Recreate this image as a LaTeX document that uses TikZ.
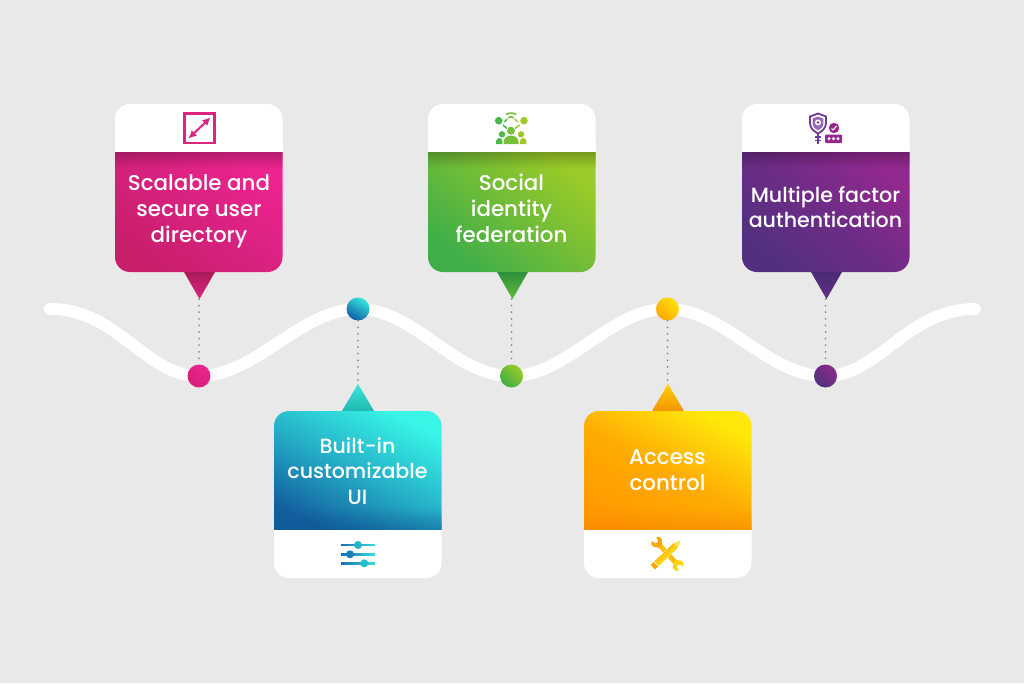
\documentclass[tikz,border=0pt]{standalone}
\usepackage{fontspec}
\setmainfont{Poppins Medium}
\usetikzlibrary{fadings,arrows.meta,calc}
\definecolor{bgc}{HTML}{E9E9E9}
\newcommand\hexc[1]{\definecolor{#1}{HTML}{#1}}
\hexc{C81F6B}\hexc{EC2490}\hexc{A81A5A}\hexc{E0257F}\hexc{3FAE49}\hexc{9BCB28}\hexc{2E8F3A}\hexc{5FBB3A}
\hexc{53307F}\hexc{93298E}\hexc{4A2A72}\hexc{5F3088}\hexc{14609F}\hexc{38F5E6}\hexc{22B8B0}\hexc{36E6DA}\hexc{0B4F8A}
\hexc{FF9A00}\hexc{FFE80A}\hexc{F29400}\hexc{FFD00A}\hexc{EE7A00}\hexc{D61F78}\hexc{0F5FA8}\hexc{35E6DC}
\hexc{FFA800}\hexc{FFE00A}\hexc{8A2A8C}\hexc{D9277F}\hexc{25B4CC}\hexc{1A7DB8}\hexc{22C0CC}
\hexc{FBBB10}\hexc{F7A800}\hexc{FFD40A}\hexc{FBBF10}\hexc{FFC80A}\hexc{FFE05A}
\hexc{D8227F}\hexc{6FBC38}\hexc{6E2C86}\hexc{25B0C8}\hexc{FFAC05}
\tikzfading[name=fadedown, top color=transparent!65, bottom color=transparent!100]
\tikzfading[name=fadeup, bottom color=transparent!55, top color=transparent!100]
\tikzset{
  x=1pt,y=-1pt,
  cardtext/.style={text=white,align=center,font=\fontsize{21.4}{26}\selectfont,inner sep=0pt},
  dotnode/.style={circle,minimum size=23pt,inner sep=0pt},
  link/.style={draw=black!45,line width=2pt,line cap=round,dash pattern=on 0pt off 6.6pt},
}
% #1 left x, #2 bottom-left colour, #3 top-right colour, #4 middle colour, #5 dark top of pointer, #6 tip colour
\newcommand\upcard[6]{%
  \fill[white,rounded corners=15pt] (#1,104) rectangle ({#1+167.5},200);
  \path[bottom color=#2,top color=#3,middle color=#4,shading angle=-40]
    (#1,152) [rounded corners=15pt] -- (#1,272) -- ({#1+167.5},272) [sharp corners] -- ({#1+167.5},152) -- cycle;
  \fill[black,path fading=fadedown] (#1,144) rectangle ({#1+167.5},168);
  \fill[white] (#1,143) rectangle ({#1+167.5},152);
  \path[top color=#5,bottom color=#6] ({#1+69},272) -- ({#1+100},272) -- ({#1+84.5},299) -- cycle;
}
\newcommand\downcard[7]{%
  \fill[white,rounded corners=15pt] (#1,480) rectangle ({#1+167.5},578);
  \path[bottom color=#2,top color=#3,middle color=#4,shading angle=-28]
    (#1,530) [rounded corners=15pt] -- (#1,411) -- ({#1+167.5},411) [sharp corners] -- ({#1+167.5},530) -- cycle;
  \fill[#7,path fading=fadeup] (#1,508) rectangle ({#1+167.5},534);
  \fill[white] (#1,530) rectangle ({#1+167.5},535);
  \path[top color=#6,bottom color=#5] ({#1+68},411) -- ({#1+100},411) -- ({#1+84},384) -- cycle;
}
\begin{document}
\begin{tikzpicture}
\useasboundingbox (0,0) rectangle (1024,683);
\fill[bgc] (0,0) rectangle (1024,683);

% wave
\draw[white,line width=12pt,line cap=round]
  (50,309) .. controls (118,309) and (145,376) .. (199,376)
  .. controls (256,376) and (301,309) .. (358,309)
  .. controls (415,309) and (454,376) .. (511,376)
  .. controls (568,376) and (610,309) .. (667,309)
  .. controls (725,309) and (767,376) .. (825,376)
  .. controls (879,376) and (907,309) .. (975,309);

% cards
\upcard{115}{C81F6B}{EC2490}{D8227F}{A81A5A}{E0257F}
\upcard{428}{3FAE49}{9BCB28}{6FBC38}{2E8F3A}{5FBB3A}
\upcard{742}{53307F}{93298E}{6E2C86}{4A2A72}{5F3088}
\downcard{274}{14609F}{38F5E6}{25B0C8}{22B8B0}{36E6DA}{0B4F8A}
\downcard{584}{FF9A00}{FFE80A}{FFAC05}{F29400}{FFD00A}{EE7A00}

% connector ends
\coordinate (tipA) at (199,299);
\coordinate (tipB) at (358,384);
\coordinate (tipC) at (511.5,299);
\coordinate (tipD) at (667.5,384);
\coordinate (tipE) at (825.5,299);

% dots on the wave
\node[dotnode,bottom color=D61F78,top color=EC2490,shading angle=-45] (dotA) at (199,376) {};
\node[dotnode,bottom color=0F5FA8,top color=35E6DC,shading angle=-30] (dotB) at (358,309) {};
\node[dotnode,bottom color=3FAE49,top color=9BCB28,shading angle=-45] (dotC) at (511.5,376) {};
\node[dotnode,bottom color=FFA800,top color=FFE00A,shading angle=-45] (dotD) at (667.5,309) {};
\node[dotnode,bottom color=53307F,top color=8A2A8C,shading angle=-45] (dotE) at (825.5,376) {};

% dotted connectors
\draw[link] (tipA) -- (dotA.north);
\draw[link] (dotB.south) -- (tipB);
\draw[link] (tipC) -- (dotC.north);
\draw[link] (dotD.south) -- (tipD);
\draw[link] (tipE) -- (dotE.north);

% labels
\node[cardtext] (textA) at (199,211) {Scalable and\\secure user\\directory};
\node[cardtext] (textC) at (511.5,208.5) {Social\\identity\\federation};
\node[cardtext,font=\fontsize{20.6}{25}\selectfont] (textE) at (825.5,207) {Multiple factor\\authentication};
\node[cardtext,font=\fontsize{20.6}{25.5}\selectfont] (textB) at (357.5,471) {Built-in\\customizable\\UI};
\node[cardtext] (textD) at (667.5,470) {Access\\control};

% icon: scale arrows
\draw[draw=D9277F,line width=2.2pt] (184.5,113.5) rectangle (214.5,143);
\draw[draw=D9277F,line width=2pt,{Latex[length=8pt,width=8pt]}-{Latex[length=8pt,width=8pt]}] (188.5,138.5) -- (210.5,117.5);

% icon: social network
\definecolor{gA}{HTML}{4CB848}\definecolor{gB}{HTML}{78C038}\definecolor{gC}{HTML}{A0C82A}
\draw[gB,line width=1.6pt] (506,114.5) .. controls (508,112.6) and (514,112.6) .. (516,114.5);
\draw[gB,line width=1.6pt] (508,117.8) .. controls (510,116.6) and (512,116.6) .. (514,117.8);
\fill[gA] (498.7,120.7) circle (3.8pt);
\fill[gC] (524,120.7) circle (3.8pt);
\fill[gB] (511,130.7) circle (4pt);
\fill[gA] (502,134.3) circle (3.2pt);
\fill[gC] (521,134.3) circle (3.2pt);
\draw[gA,line width=1.5pt] (503,125) -- (507,128.5);
\draw[gC,line width=1.5pt] (519.5,125) -- (515,128.5);
\draw[gA,line width=1.5pt] (507,119) -- (504.5,122);
\draw[gC,line width=1.5pt] (515,119) -- (517.5,122);
\fill[gA] (496,144) -- (496,141.5) arc[start angle=180,end angle=360,x radius=3.2pt,y radius=-3.5pt] -- (502.4,144) -- cycle;
\fill[gC] (520,144) -- (520,141.5) arc[start angle=180,end angle=360,x radius=3.2pt,y radius=-3.5pt] -- (526.4,144) -- cycle;
\fill[gB] (503.5,144) -- (503.5,142) arc[start angle=180,end angle=360,x radius=7.5pt,y radius=-6.5pt] -- (518.5,144) -- cycle;

% icon: shield and key
\definecolor{pA}{HTML}{6F3A96}\definecolor{pB}{HTML}{93298E}
\draw[pA,line width=1.8pt,fill=white] (818,113.5) -- (826,116.5) -- (826,123) .. controls (826,128) and (822,131.5) .. (818,133.5) .. controls (814,131.5) and (810,128) .. (810,123) -- (810,116.5) -- cycle;
\fill[pA!75] (818,116.5) -- (823.4,118.5) -- (823.4,123) .. controls (823.4,126.5) and (821,129) .. (818,130.5) .. controls (815,129) and (812.6,126.5) .. (812.6,123) -- (812.6,118.5) -- cycle;
\fill[white] (818,122.5) circle (3pt);
\fill[pB] (818,122.5) circle (1.3pt);
\draw[pA,line width=2.4pt] (818,133) -- (818,144);
\draw[pA,line width=1.4pt] (815,137) -- (821,137) (815,140.5) -- (821,140.5);
\fill[pB] (834,128) circle (5.2pt);
\draw[white,line width=1pt] (831.5,128.5) -- (833.2,130) -- (836.5,126);
\fill[pB,rounded corners=1pt] (825,134.5) rectangle (842,143);
\foreach \xx in {829,833.5,838}{\fill[white] (\xx,138.7) circle (1.7pt);}

% icon: sliders
\definecolor{sA}{HTML}{1A6FB0}\definecolor{sB}{HTML}{35E0DC}
\foreach \yy/\kx/\kc in {545/358/25B4CC, 554.3/350/1A7DB8, 563.3/364.3/22C0CC}{
  \shade[left color=sA,right color=sB] (341,\yy-0.8) rectangle (375,\yy+0.8);
  \fill[\kc] (\kx,\yy) circle (4pt);
}

% icon: tools
\begin{scope}[shift={(667.5,553.8)},rotate=-47.5]
  \fill[FBBB10] (-15,-2.4) rectangle (15,2.4);
  \foreach \sx/\cc in {-1/F7A800,1/FFD40A}{
    \fill[\cc] (\sx*18,-5.5) -- (\sx*14.5,-5.5) -- (\sx*10.5,-2.4) -- (\sx*10.5,2.4) -- (\sx*14.5,5.5) -- (\sx*18,5.5) -- (\sx*20,3) -- (\sx*15.5,1.7) -- (\sx*15.5,-1.7) -- (\sx*20,-3) -- cycle;
  }
\end{scope}
\begin{scope}[shift={(667,553.7)},rotate=43.5]
  \draw[white,line width=7pt] (-15,0) -- (13,0);
  \fill[F7A800] (-19.5,-3.2) rectangle (-15.5,3.2);
  \fill[FBBF10] (-14.5,-3.2) rectangle (12,-1);
  \fill[FFC80A] (-14.5,-1) rectangle (12,1);
  \fill[FFD40A] (-14.5,1) rectangle (12,3.2);
  \fill[FFE05A] (12,-3.2) -- (19,0) -- (12,3.2) -- cycle;
\end{scope}
\end{tikzpicture}
\end{document}
